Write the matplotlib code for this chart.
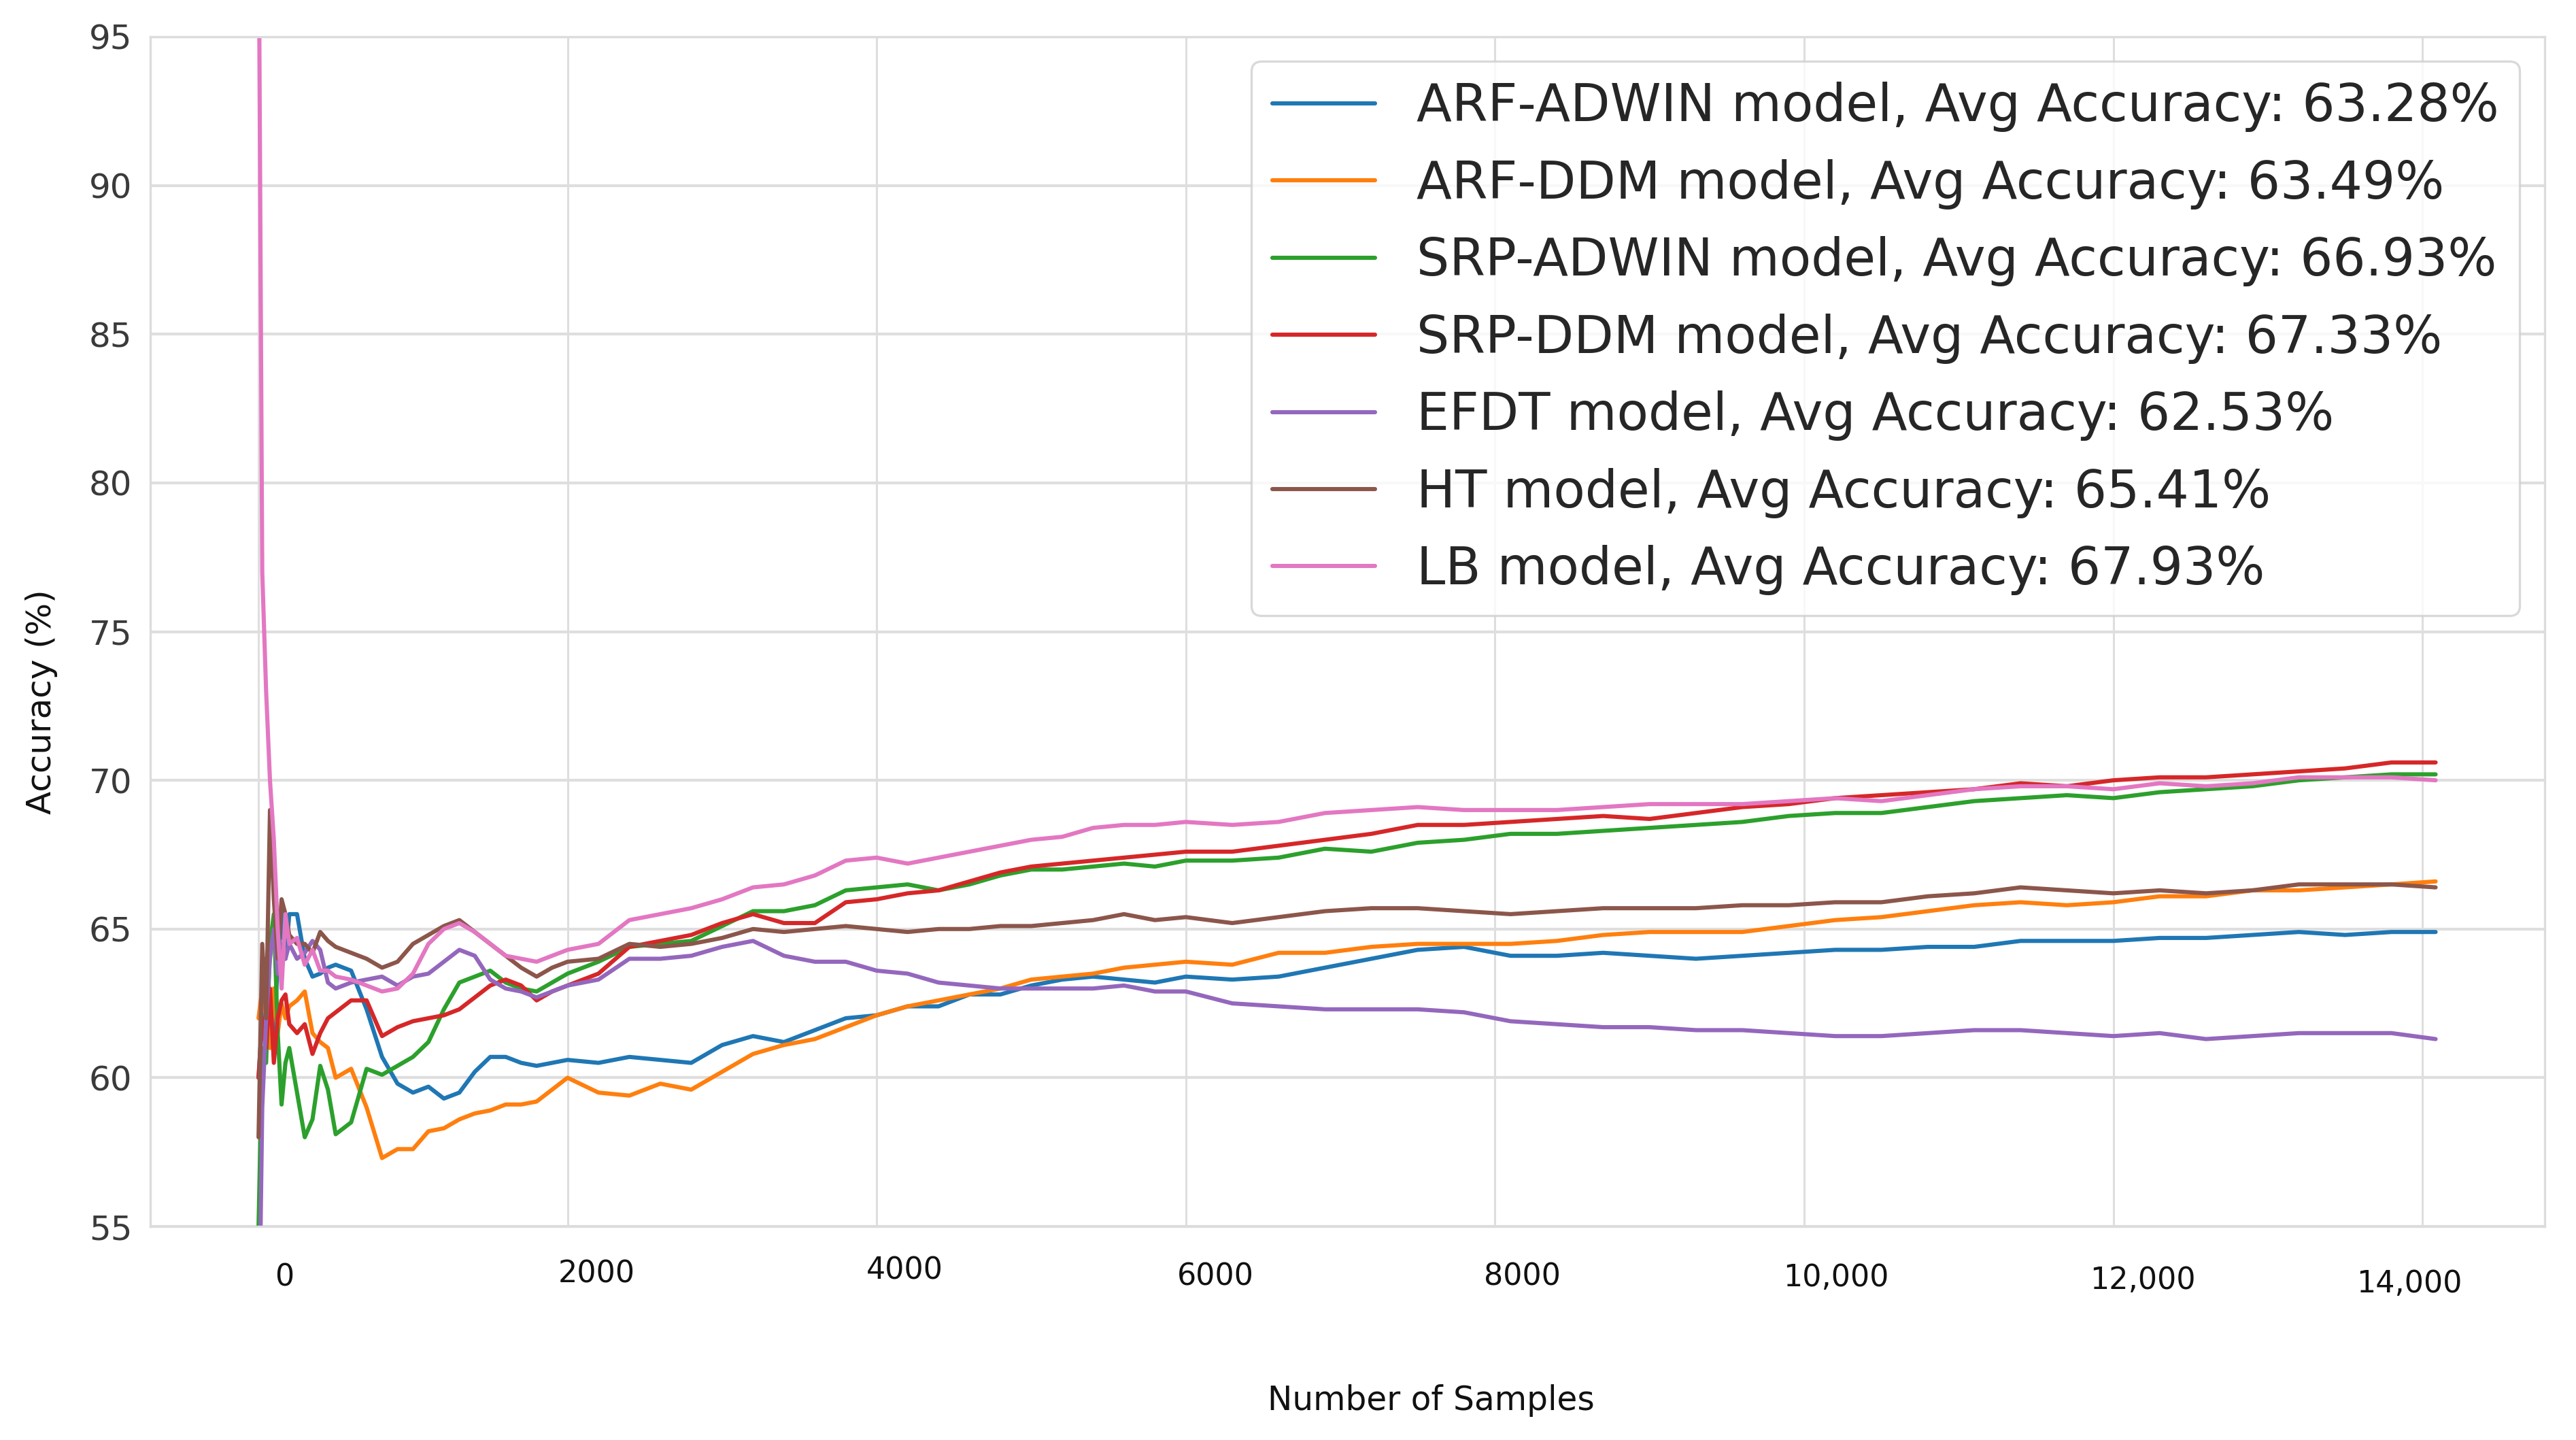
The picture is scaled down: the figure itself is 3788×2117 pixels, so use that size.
import matplotlib
matplotlib.use('Agg')
import matplotlib.pyplot as plt
import matplotlib.transforms as mtransforms
import seaborn as sns

samples = [1, 25, 50, 75, 100, 125, 150, 175, 200, 250, 300, 350, 400, 450, 500,
           600, 700, 800, 900, 1000, 1100, 1200, 1300, 1400, 1500, 1600, 1700, 1800, 1900, 2000,
           2200, 2400, 2600, 2800, 3000, 3200, 3400, 3600, 3800, 4000, 4200, 4400, 4600, 4800,
           5000, 5200, 5400, 5600, 5800, 6000, 6300, 6600, 6900, 7200, 7500, 7800, 8100, 8400,
           8700, 9000, 9300, 9600, 9900, 10200, 10500, 10800, 11100, 11400, 11700, 12000, 12300,
           12600, 12900, 13200, 13500, 13800, 14085]

arf_adwin = [60, 62, 64, 62, 61, 64, 65.5, 64, 65.5, 65.5, 64.0, 63.4, 63.5, 63.7, 63.8,
             63.6, 62.3, 60.7, 59.8, 59.5, 59.7, 59.3, 59.5, 60.2, 60.7, 60.7, 60.5, 60.4, 60.5, 60.6,
             60.5, 60.7, 60.6, 60.5, 61.1, 61.4, 61.2, 61.6, 62.0, 62.1, 62.4, 62.4, 62.8, 62.8,
             63.1, 63.3, 63.4, 63.3, 63.2, 63.4, 63.3, 63.4, 63.7, 64.0, 64.3, 64.4, 64.1, 64.1,
             64.2, 64.1, 64.0, 64.1, 64.2, 64.3, 64.3, 64.4, 64.4, 64.6, 64.6, 64.6, 64.7,
             64.7, 64.8, 64.9, 64.8, 64.9, 64.9]

arf_ddm = [62, 63, 62, 61, 63, 61.5, 62.5, 62, 62.4, 62.6, 62.9, 61.5, 61.2, 61.0, 60.0,
           60.3, 59.0, 57.3, 57.6, 57.6, 58.2, 58.3, 58.6, 58.8, 58.9, 59.1, 59.1, 59.2, 59.6, 60.0,
           59.5, 59.4, 59.8, 59.6, 60.2, 60.8, 61.1, 61.3, 61.7, 62.1, 62.4, 62.6, 62.8, 63.0,
           63.3, 63.4, 63.5, 63.7, 63.8, 63.9, 63.8, 64.2, 64.2, 64.4, 64.5, 64.5, 64.5, 64.6,
           64.8, 64.9, 64.9, 64.9, 65.1, 65.3, 65.4, 65.6, 65.8, 65.9, 65.8, 65.9, 66.1,
           66.1, 66.3, 66.3, 66.4, 66.5, 66.6]

srp_adwin = [55, 61, 60.5, 64.5, 65.5, 61.5, 59.1, 60.5, 61.0, 59.5, 58.0, 58.6, 60.4, 59.6, 58.1,
             58.5, 60.3, 60.1, 60.4, 60.7, 61.2, 62.3, 63.2, 63.4, 63.6, 63.2, 63.0, 62.9, 63.2, 63.5,
             63.9, 64.4, 64.5, 64.6, 65.1, 65.6, 65.6, 65.8, 66.3, 66.4, 66.5, 66.3, 66.5, 66.8,
             67.0, 67.0, 67.1, 67.2, 67.1, 67.3, 67.3, 67.4, 67.7, 67.6, 67.9, 68.0, 68.2, 68.2,
             68.3, 68.4, 68.5, 68.6, 68.8, 68.9, 68.9, 69.1, 69.3, 69.4, 69.5, 69.4, 69.6,
             69.7, 69.8, 70.0, 70.1, 70.2, 70.2]

srp_ddm = [60, 62, 61, 63, 60.5, 62, 62.6, 62.8, 61.8, 61.5, 61.8, 60.8, 61.5, 62.0, 62.2,
           62.6, 62.6, 61.4, 61.7, 61.9, 62.0, 62.1, 62.3, 62.7, 63.1, 63.3, 63.1, 62.6, 62.9, 63.1,
           63.5, 64.4, 64.6, 64.8, 65.2, 65.5, 65.2, 65.2, 65.9, 66.0, 66.2, 66.3, 66.6, 66.9,
           67.1, 67.2, 67.3, 67.4, 67.5, 67.6, 67.6, 67.8, 68.0, 68.2, 68.5, 68.5, 68.6, 68.7,
           68.8, 68.7, 68.9, 69.1, 69.2, 69.4, 69.5, 69.6, 69.7, 69.9, 69.8, 70.0, 70.1,
           70.1, 70.2, 70.3, 70.4, 70.6, 70.6]

efdt = [50, 59, 62, 64, 65, 63.5, 64.5, 64, 64.5, 64.0, 64.2, 64.6, 64.3, 63.2, 63.0,
        63.2, 63.3, 63.4, 63.1, 63.4, 63.5, 63.9, 64.3, 64.1, 63.3, 63.0, 62.9, 62.7, 62.9, 63.1,
        63.3, 64.0, 64.0, 64.1, 64.4, 64.6, 64.1, 63.9, 63.9, 63.6, 63.5, 63.2, 63.1, 63.0,
        63.0, 63.0, 63.0, 63.1, 62.9, 62.9, 62.5, 62.4, 62.3, 62.3, 62.3, 62.2, 61.9, 61.8,
        61.7, 61.7, 61.6, 61.6, 61.5, 61.4, 61.4, 61.5, 61.6, 61.6, 61.5, 61.4, 61.5,
        61.3, 61.4, 61.5, 61.5, 61.5, 61.3]

ht = [58, 64.5, 62, 69, 66, 64, 66, 65.5, 64.8, 64.5, 64.5, 64.2, 64.9, 64.6, 64.4,
      64.2, 64.0, 63.7, 63.9, 64.5, 64.8, 65.1, 65.3, 64.9, 64.5, 64.1, 63.7, 63.4, 63.7, 63.9,
      64.0, 64.5, 64.4, 64.5, 64.7, 65.0, 64.9, 65.0, 65.1, 65.0, 64.9, 65.0, 65.0, 65.1,
      65.1, 65.2, 65.3, 65.5, 65.3, 65.4, 65.2, 65.4, 65.6, 65.7, 65.7, 65.6, 65.5, 65.6,
      65.7, 65.7, 65.7, 65.8, 65.8, 65.9, 65.9, 66.1, 66.2, 66.4, 66.3, 66.2, 66.3,
      66.2, 66.3, 66.5, 66.5, 66.5, 66.4]

lb = [100, 77, 73, 70, 68, 65, 63, 65.5, 64.5, 64.7, 63.8, 64.3, 63.6, 63.6, 63.4,
      63.3, 63.1, 62.9, 63.0, 63.5, 64.5, 65.0, 65.2, 64.9, 64.5, 64.1, 64.0, 63.9, 64.1, 64.3,
      64.5, 65.3, 65.5, 65.7, 66.0, 66.4, 66.5, 66.8, 67.3, 67.4, 67.2, 67.4, 67.6, 67.8,
      68.0, 68.1, 68.4, 68.5, 68.5, 68.6, 68.5, 68.6, 68.9, 69.0, 69.1, 69.0, 69.0, 69.0,
      69.1, 69.2, 69.2, 69.2, 69.3, 69.4, 69.3, 69.5, 69.7, 69.8, 69.8, 69.7, 69.9,
      69.8, 69.9, 70.1, 70.1, 70.1, 70.0]

model_names = ['ARF-ADWIN', 'ARF-DDM', 'SRP-ADWIN', 'SRP-DDM', 'EFDT', 'HT', 'LB']
avg_accuracy = [63.28, 63.49, 66.93, 67.33, 62.53, 65.41, 67.93]

x_ticks = [0, 2000, 4000, 6000, 8000, 10000, 12000, 14000]
x_tick_labels = ['0', '2000', '4000', '6000', '8000', '10,000', '12,000', '14,000']
y_ticks = [55, 60, 65, 70, 75, 80, 85, 90, 95]

series = [arf_adwin, arf_ddm, srp_adwin, srp_ddm, efdt, ht, lb]
colors = ['#1f77b4', '#ff7f0e', '#2ca02c', '#d62728', '#9467bd', '#8c564b', '#e377c2']

sns.set_style('whitegrid')
plt.rcParams['font.family'] = ['DejaVu Sans']

DPI = 200
fig = plt.figure(figsize=(18.94, 10.585), dpi=DPI)
ax = fig.add_axes([0.0583, 0.1483, 0.9295, 0.8262])

for name, acc, vals, col in zip(model_names, avg_accuracy, series, colors):
    ax.plot(samples, vals, color=col, linewidth=2.2,
            label=f'{name} model, Avg Accuracy: {acc:.2f}%')

ax.set_xlim(-700, 14790)
ax.set_ylim(55, 95)
ax.set_yticks(y_ticks)
ax.set_xticks(x_ticks)
ax.set_xticklabels(x_tick_labels)

ax.grid(axis='y', color='#dedede', linewidth=1.5)
ax.grid(axis='x', color='#dedede', linewidth=1.1)
for sp in ax.spines.values():
    sp.set_color('#dcdcdc')
    sp.set_linewidth(1.2)

ax.tick_params(axis='y', length=0, pad=9.5, labelsize=18, labelcolor='#3a3a3a')
ax.tick_params(axis='x', length=0, pad=19, labelsize=16, labelcolor='#111111')

# the x tick labels sit a bit off their gridlines in the original
label_shift = [(38, 1), (43, -4), (41, -9), (44, 0), (40, 0), (47, 1), (43, 5), (-19, 10)]
for lbl, (dx, dy) in zip(ax.get_xticklabels(), label_shift):
    lbl.set_transform(lbl.get_transform() +
                      mtransforms.ScaledTranslation(dx / DPI, -dy / DPI, fig.dpi_scale_trans))

ax.set_ylabel('Accuracy (%)', fontsize=18, color='#111111')
ax.yaxis.set_label_coords(-0.0386, 0.441)
ax.set_xlabel('Number of Samples', fontsize=17.5, color='#111111')
ax.xaxis.set_label_coords(0.535, -0.1326)

leg = ax.legend(loc='upper right', bbox_to_anchor=(0.9895, 0.9794), borderaxespad=0,
                fontsize=27.3, labelspacing=0.52, handlelength=2.0, frameon=True)
leg.get_frame().set_edgecolor('#d0d0d0')
leg.get_frame().set_linewidth(1.2)
for t in leg.get_texts():
    t.set_color('#262626')

fig.savefig('out.png', dpi=DPI)
